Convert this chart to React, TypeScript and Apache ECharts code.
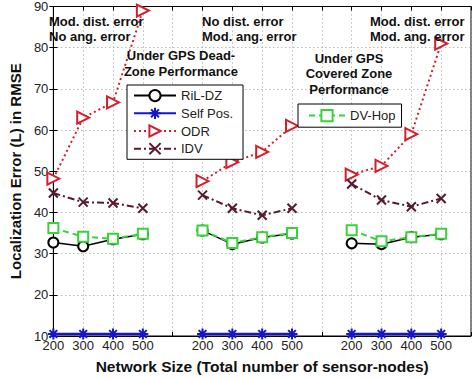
import React, { useEffect, useRef } from "react";
import * as echarts from "echarts";

// x positions: 0..14 ; groups separated by blank slots at 4, 9, 14
const tickLabels = ["200", "300", "400", "500", "", "200", "300", "400", "500", "", "200", "300", "400", "500", ""];

const rilDz = [32.7, 31.8, 33.5, 34.7, null, 35.6, 32.3, 33.9, 34.9, null, 32.5, 32.3, 34.0, 34.7];
const selfPos = [10.5, 10.5, 10.5, 10.5, null, 10.5, 10.5, 10.5, 10.5, null, 10.5, 10.5, 10.5, 10.5];
const odr = [48.2, 63.0, 66.7, 89.0, null, 47.6, 52.2, 54.7, 61.0, null, 49.2, 51.3, 59.0, 81.0];
const idv = [44.7, 42.5, 42.3, 41.0, null, 44.2, 41.0, 39.3, 41.0, null, 46.9, 43.0, 41.4, 43.4];
const dvHop = [36.2, 34.1, 33.6, 34.8, null, 35.6, 32.6, 34.0, 35.0, null, 35.7, 33.0, 34.0, 34.8];

const toData = (arr: (number | null)[]) => arr.map((v, i) => [i, v == null ? "-" : v]);

const BOLD = "bold 13px 'Liberation Sans', Arial, sans-serif";

export default function App() {
  const ref = useRef<HTMLDivElement>(null);
  useEffect(() => {
    document.body.style.margin = "0";
    const chart = echarts.init(ref.current!, null, { renderer: "svg" });
    const txt = (text: string, x: number, y: number, align = "left") => ({
      type: "text",
      style: { text, x, y, font: BOLD, fill: "#111", align, verticalAlign: "middle" },
      z: 10,
    });
    chart.setOption({
      animation: false,
      backgroundColor: "#fff",
      grid: { left: 43, right: 2, top: 5, bottom: 37, show: true, borderColor: "#000", borderWidth: 1 },
      xAxis: [
        {
          type: "value",
          min: 0,
          max: 14,
          interval: 1,
          name: "Network Size (Total number of sensor-nodes)",
          nameLocation: "middle",
          nameGap: 22,
          nameTextStyle: { fontFamily: "'Liberation Sans', Arial, sans-serif", fontWeight: "bold", fontSize: 15.5, color: "#111" },
          axisLine: { lineStyle: { color: "#000", width: 1 } },
          axisTick: { inside: true, length: 4, lineStyle: { color: "#000" } },
          axisLabel: {
            formatter: (v: number) => tickLabels[v] ?? "",
            fontFamily: "'Liberation Sans Narrow', 'Liberation Sans', Arial, sans-serif",
            fontSize: 13,
            color: "#222",
            margin: 3,
          },
          splitLine: { show: true, lineStyle: { color: "#999", type: [1, 3], width: 1 } },
        },
        {
          type: "value",
          position: "top",
          min: 0,
          max: 14,
          interval: 1,
          axisLine: { lineStyle: { color: "#000" } },
          axisTick: { inside: true, length: 4, lineStyle: { color: "#000" } },
          axisLabel: { show: false },
          splitLine: { show: false },
        },
      ],
      yAxis: [
        {
          type: "value",
          min: 10,
          max: 90,
          interval: 10,
          name: "Localization Error (L) in RMSE",
          nameLocation: "middle",
          nameGap: 29,
          nameTextStyle: { fontFamily: "'Liberation Sans', Arial, sans-serif", fontWeight: "bold", fontSize: 15, color: "#111" },
          axisLine: { show: true, lineStyle: { color: "#000", width: 1 } },
          axisTick: { show: true, inside: true, length: 4, lineStyle: { color: "#000" } },
          axisLabel: {
            fontFamily: "'Liberation Sans Narrow', 'Liberation Sans', Arial, sans-serif",
            fontSize: 13,
            color: "#222",
            margin: 5,
          },
          splitLine: { show: true, lineStyle: { color: "#999", type: [1, 3], width: 1 } },
        },
        {
          type: "value",
          position: "right",
          min: 10,
          max: 90,
          interval: 10,
          axisLine: { show: true, lineStyle: { color: "#000" } },
          axisTick: { show: true, inside: true, length: 4, lineStyle: { color: "#000" } },
          axisLabel: { show: false },
          splitLine: { show: false },
        },
      ],
      legend: [
        {
          data: ["RiL-DZ", "Self Pos.", "ODR", "IDV"],
          orient: "vertical",
          left: 127,
          top: 85,
          itemWidth: 42,
          itemHeight: 14,
          itemGap: 4.5,
          padding: [4, 10, 4, 6],
          borderColor: "#000",
          borderWidth: 1,
          backgroundColor: "#fff",
          textStyle: { fontFamily: "'Liberation Sans', Arial, sans-serif", fontSize: 13, color: "#222" },
        },
        {
          data: ["DV-Hop"],
          orient: "vertical",
          left: 298,
          top: 104,
          itemWidth: 36,
          itemHeight: 14,
          padding: [5, 6, 5, 10],
          borderColor: "#000",
          borderWidth: 1,
          backgroundColor: "#fff",
          textStyle: { fontFamily: "'Liberation Sans', Arial, sans-serif", fontSize: 13, color: "#222" },
        },
      ],
      graphic: [
        txt("Mod. dist. error", 49, 21),
        txt("No ang. error", 49, 36),
        txt("No dist. error", 202, 21),
        txt("Mod. ang. error", 202, 36),
        txt("Mod. dist. error", 370, 21),
        txt("Mod. ang. error", 370, 36),
        txt("Under GPS Dead-", 181, 55, "center"),
        txt("Zone Performance", 181, 71, "center"),
        txt("Under GPS", 349, 58, "center"),
        txt("Covered Zone", 349, 73, "center"),
        txt("Performance", 349, 89, "center"),
      ],
      series: [
        {
          name: "RiL-DZ",
          type: "line",
          data: toData(rilDz),
          symbol: "emptyCircle",
          symbolSize: 10,
          color: "#000",
          lineStyle: { color: "#000", width: 1.5 },
          itemStyle: { color: "#000", borderWidth: 1.5 },
        },
        {
          name: "Self Pos.",
          type: "line",
          data: toData(selfPos),
          symbol: "path://M5,0L5,10M0,5L10,5M1.5,1.5L8.5,8.5M1.5,8.5L8.5,1.5",
          symbolSize: 11,
          color: "#1515cc",
          lineStyle: { color: "#1515cc", width: 2.5 },
          itemStyle: { color: "#1515cc", borderColor: "#1515cc", borderWidth: 2 },
        },
        {
          name: "ODR",
          type: "line",
          data: toData(odr),
          symbol: "emptyTriangle",
          symbolRotate: -90,
          symbolSize: 12,
          color: "#d41e2c",
          lineStyle: { color: "#d41e2c", width: 2, type: [2, 3] },
          itemStyle: { color: "#d41e2c", borderWidth: 2 },
        },
        {
          name: "IDV",
          type: "line",
          data: toData(idv),
          symbol: "path://M0,0L10,10M0,10L10,0",
          symbolSize: 9,
          color: "#561a33",
          lineStyle: { color: "#561a33", width: 2, type: [7, 3, 2, 3] },
          itemStyle: { color: "#561a33", borderColor: "#561a33", borderWidth: 2 },
        },
        {
          name: "DV-Hop",
          type: "line",
          data: toData(dvHop),
          symbol: "emptyRect",
          symbolSize: 10,
          color: "#3ad23a",
          lineStyle: { color: "#3ad23a", width: 2, type: [6, 4] },
          itemStyle: { color: "#3ad23a", borderWidth: 2 },
        },
      ],
    });
    return () => chart.dispose();
  }, []);
  return <div ref={ref} style={{ width: 474, height: 379 }} />;
}
